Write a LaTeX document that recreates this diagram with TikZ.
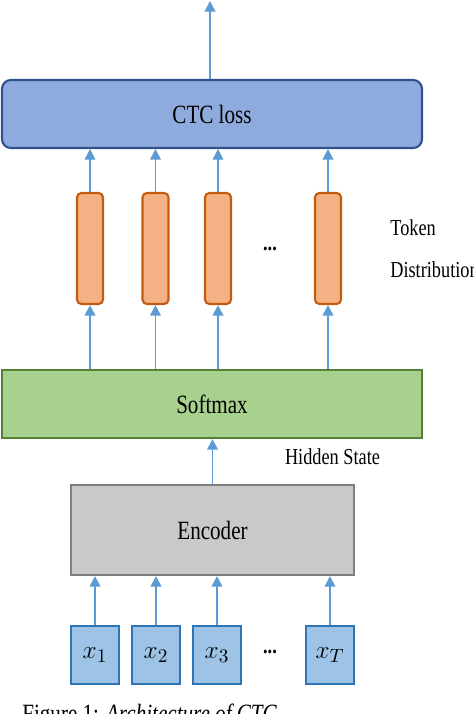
\documentclass[tikz,border=0pt]{standalone}
\usepackage{amsmath}
\usepackage{fontspec}
\setmainfont[FakeStretch=0.8]{Liberation Serif}
\usetikzlibrary{positioning,calc,arrows.meta}

\definecolor{lossfill}{HTML}{8FAADC}
\definecolor{lossdraw}{HTML}{2F528F}
\definecolor{distfill}{HTML}{F4B183}
\definecolor{distdraw}{HTML}{C55A11}
\definecolor{softfill}{HTML}{A9D18E}
\definecolor{softdraw}{HTML}{548235}
\definecolor{encfill}{HTML}{C9C9C9}
\definecolor{encdraw}{HTML}{7F7F7F}
\definecolor{infill}{HTML}{9DC3E6}
\definecolor{indraw}{HTML}{2E75B6}
\definecolor{arrcol}{HTML}{5B9BD5}

\begin{document}
\begin{tikzpicture}[
		arr/.style={draw=arrcol, line width=1.1pt, -{Triangle[width=6pt,length=6pt]}},
		lossbox/.style={draw=lossdraw, fill=lossfill, line width=1.2pt, rounded corners=5pt, minimum width=8.4cm, minimum height=1.36cm, font=\fontsize{15}{18}\selectfont},
		distbox/.style={draw=distdraw, fill=distfill, line width=1.2pt, rounded corners=2.5pt, minimum width=0.52cm, minimum height=2.22cm},
		softbox/.style={draw=softdraw, fill=softfill, line width=1.2pt, minimum width=8.4cm, minimum height=1.36cm, font=\fontsize{15}{18}\selectfont},
		encbox/.style={draw=encdraw, fill=encfill, line width=1.2pt, minimum width=5.66cm, minimum height=1.8cm, font=\fontsize{15}{18}\selectfont},
		inbox/.style={draw=indraw, fill=infill, line width=1.2pt, minimum width=0.96cm, minimum height=1.16cm, font=\fontsize{15}{18}\selectfont},
		lbl/.style={inner sep=0pt, font=\fontsize{13}{15}\selectfont}
	]
				\useasboundingbox (0,0) rectangle (9.48,14.28);
				% boxes
				\node[lossbox] (ctc) at (4.24, 12.0) {CTC loss};
				\node[distbox] (o1) at (1.8, 9.31) {};
				\node[distbox] (o2) at (3.11, 9.31) {};
				\node[distbox] (o3) at (4.36, 9.31) {};
				\node[distbox] (o4) at (6.56, 9.31) {};
				\node[softbox] (soft) at (4.24, 6.2) {Softmax};
				\node[encbox] (enc) at (4.25, 3.68) {Encoder};
				\node[inbox] (x1) at (1.9, 1.18) {$x_1$};
				\node[inbox] (x2) at (3.12, 1.18) {$x_2$};
				\node[inbox] (x3) at (4.34, 1.18) {$x_3$};
				\node[inbox] (xT) at (6.6, 1.18) {$x_T$};
				% texts
				\node[lbl] (dotsa) at (5.4, 9.3) {\textbf{...}};
				\node[lbl] (dotsb) at (5.4, 1.25) {\textbf{...}};
				\node[lbl, anchor=west] (tok) at (7.8, 9.72) {Token};
				\node[lbl, anchor=west] (dist) at (7.8, 8.88) {Distribution};
				\node[lbl] (hid) at (6.65, 5.14) {Hidden State};
				\node[inner sep=0pt, anchor=base west, font=\fontsize{15}{18}\selectfont] (cap) at (0.44, -0.16) {Figure 1: \textit{Architecture of CTC}};
				% arrows
				\coordinate (out) at (4.2, 14.26);
				\draw[arr] (ctc.north -| out) -- (out);
				\draw[arr] (o1.north) -- (o1.north |- ctc.south);
				\draw[arr] (o2.north) -- (o2.north |- ctc.south);
				\draw[arr] (o3.north) -- (o3.north |- ctc.south);
				\draw[arr] (o4.north) -- (o4.north |- ctc.south);
				\draw[arr] (soft.north -| o1) -- (o1.south);
				\draw[arr] (soft.north -| o2) -- (o2.south);
				\draw[arr] (soft.north -| o3) -- (o3.south);
				\draw[arr] (soft.north -| o4) -- (o4.south);
				\draw[arr] (enc.north) -- (soft.south -| enc.north);
				\draw[arr] (x1.north) -- (x1.north |- enc.south);
				\draw[arr] (x2.north) -- (x2.north |- enc.south);
				\draw[arr] (x3.north) -- (x3.north |- enc.south);
				\draw[arr] (xT.north) -- (xT.north |- enc.south);
\end{tikzpicture}
\end{document}
